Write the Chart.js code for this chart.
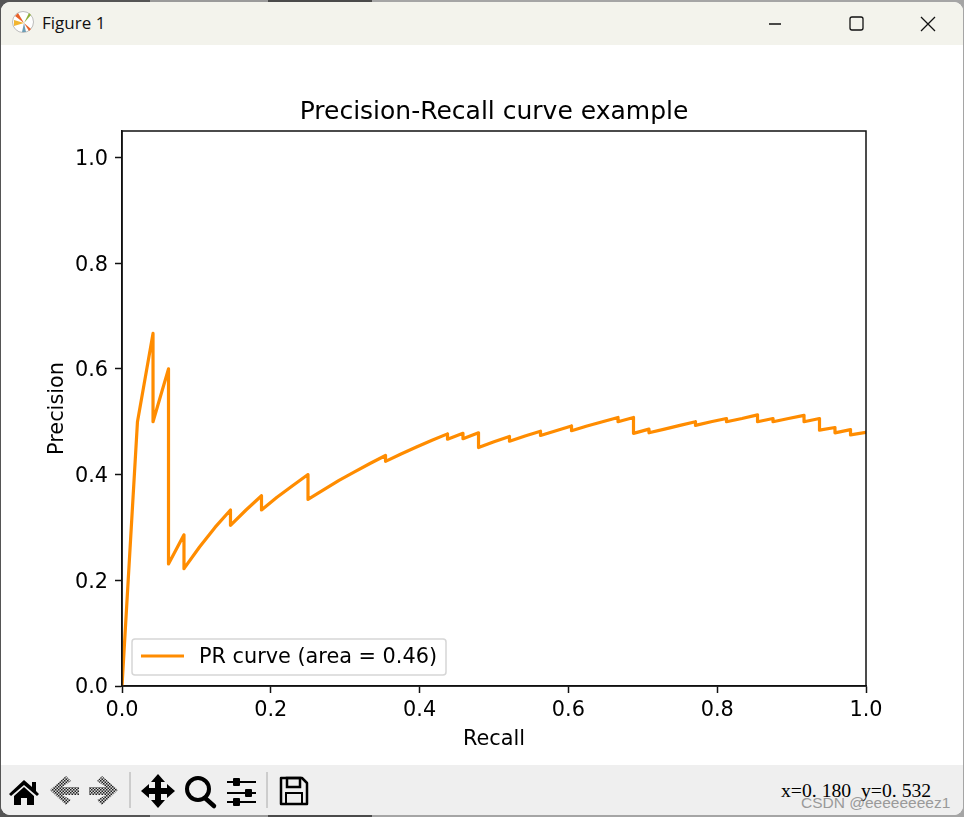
<!DOCTYPE html>
<html>
<head>
<meta charset="utf-8">
<title>Figure 1</title>
<script src="https://cdn.jsdelivr.net/npm/chart.js@4"></script>
<style>
html, body { margin: 0; padding: 0; width: 964px; height: 817px; overflow: hidden; }
body { background: linear-gradient(90deg, #555 0 150px, #9a9a9a 150px 268px, #4a4a4a 268px 372px, #a5a5a5 372px); }
#win { position: absolute; left: 1px; top: 2px; width: 962px; height: 813px; background: #fff; border-radius: 9px; overflow: hidden; }
#titlebar { position: absolute; left: 0; top: 0; width: 100%; height: 43px; background: #f3f3ec; }
#titlebar span { position: absolute; left: 41px; top: 9px; font: 17px "Open Sans", "Noto Sans", sans-serif; color: #111; }
#toolbar { position: absolute; left: 0; top: 763px; width: 100%; height: 50px; background: #efefef; }
#coords { position: absolute; left: 780px; top: 14px; font: 19.7px "Liberation Serif", serif; color: #000; white-space: pre; }
#mark { position: absolute; left: 800px; top: 29px; font: 15.5px "Liberation Sans", sans-serif; color: #9a9a9a; white-space: pre; }
svg { position: absolute; left: 0; top: 0; }
</style>
</head>
<body>
<div id="win">
  <div id="titlebar">
    <svg width="962" height="43">
      <circle cx="22" cy="20" r="10.5" fill="#fff" stroke="#bbb"/>
      <path d="M23 21 L17 11 L14 14Z" fill="#e8622a"/>
      <path d="M23 21 L28 11 L30 13Z" fill="#8fb03a"/>
      <path d="M23 21 L13 18 L13 24Z" fill="#f2b632"/>
      <path d="M23 21 L28 29 L30 27Z" fill="#e8622a"/>
      <path d="M23 21 L21 30 L25 30Z" fill="#6d9eb5"/>
      <path d="M768 22 h12" stroke="#111" stroke-width="1.3"/>
      <rect x="849" y="15" width="13" height="13" rx="2" fill="none" stroke="#111" stroke-width="1.3"/>
      <path d="M920 15 L934 29 M934 15 L920 29" stroke="#111" stroke-width="1.3"/>
    </svg>
    <span>Figure 1</span>
  </div>
  <canvas id="prChart" width="962" height="720" style="position:absolute;left:0;top:43px;width:962px;height:720px"></canvas>
  <div id="toolbar">
    <svg width="962" height="50">
      <defs>
        <pattern id="dith" width="3" height="3" patternUnits="userSpaceOnUse">
          <rect width="3" height="3" fill="#d8d8d8"/><rect width="1.5" height="1.5" fill="#222"/><rect x="1.5" y="1.5" width="1.5" height="1.5" fill="#222"/>
        </pattern>
      </defs>
      <path d="M8 29 L23 15 L31 22 V17 H35 V26 L38 29 L36 31 L23 20 L10 31Z M13 31 L23 22 L33 31 V40 H26 V33 H20 V40 H13Z" fill="#000"/>
      <path d="M49 25 L65 11 L70 16 L61 22 H78 V30 H61 L70 35 L65 40Z" fill="url(#dith)"/>
      <path d="M117 25 L101 11 L96 16 L105 22 H88 V30 H105 L96 35 L101 40Z" fill="url(#dith)"/>
      <path d="M129 7 V43" stroke="#aaa"/>
      <path d="M157 9 L164 17 H160 V23 H166 V19 L174 26 L166 33 V29 H160 V35 H164 L157 43 L150 35 H154 V29 H148 V33 L140 26 L148 19 V23 H154 V17 H150Z" fill="#000"/>
      <circle cx="197" cy="24" r="11" fill="none" stroke="#000" stroke-width="4"/>
      <path d="M204 33 L213 41" stroke="#000" stroke-width="4.5" stroke-linecap="round"/>
      <path d="M226 17 H255 M226 28 H255 M226 37 H255" stroke="#000" stroke-width="2"/>
      <rect x="232" y="13" width="7" height="8" rx="1"/><rect x="244" y="24" width="7" height="8" rx="1"/><rect x="232" y="33" width="7" height="8" rx="1"/>
      <path d="M266 7 V43" stroke="#aaa"/>
      <path d="M280 13 H301 L306 18 V39 H280Z" fill="none" stroke="#000" stroke-width="2.5" stroke-linejoin="round"/>
      <rect x="286" y="13" width="13" height="9" fill="none" stroke="#000" stroke-width="2.5"/>
      <rect x="285" y="28" width="16" height="11" fill="none" stroke="#000" stroke-width="2"/>
    </svg>
    <div id="coords">x=0. 180  y=0. 532</div>
    <div id="mark">CSDN @eeeeeeeez1</div>
  </div>
</div>
<script>
const chartTitle = 'Precision-Recall curve example';
const xAxisTitle = 'Recall';
const yAxisTitle = 'Precision';
const seriesLabel = 'PR curve (area = 0.46)';
const seriesColor = 'darkorange';

const recall = [0, 0.0208, 0.0417, 0.0417, 0.0625, 0.0625, 0.0833, 0.0833, 0.1042, 0.125, 0.1458, 0.1458,
  0.1667, 0.1875, 0.1875, 0.2083, 0.2292, 0.25, 0.25, 0.2708, 0.2917, 0.3125, 0.3333, 0.3542, 0.3542,
  0.375, 0.3958, 0.4167, 0.4375, 0.4375, 0.4583, 0.4583, 0.4792, 0.4792, 0.5, 0.5208, 0.5208, 0.5417, 0.5625, 0.5625,
  0.5833, 0.6042, 0.6042, 0.625, 0.6458, 0.6667, 0.6667, 0.6875, 0.6875, 0.7083, 0.7083, 0.7292, 0.75, 0.7708, 0.7708,
  0.7917, 0.8125, 0.8125, 0.8333, 0.8542, 0.8542, 0.875, 0.875, 0.8958, 0.9167, 0.9167, 0.9375, 0.9375,
  0.9583, 0.9583, 0.9792, 0.9792, 1];
const precision = [0, 0.5, 0.667, 0.5, 0.6, 0.231, 0.286, 0.222, 0.263, 0.3, 0.333, 0.304,
  0.333, 0.36, 0.333, 0.357, 0.379, 0.4, 0.353, 0.371, 0.389, 0.405, 0.421, 0.436, 0.425,
  0.439, 0.452, 0.465, 0.477, 0.467, 0.478, 0.468, 0.479, 0.451, 0.462, 0.472, 0.463, 0.473, 0.482, 0.474,
  0.483, 0.492, 0.483, 0.492, 0.5, 0.508, 0.5, 0.508, 0.478, 0.486, 0.479, 0.486, 0.493, 0.5, 0.493,
  0.5, 0.506, 0.5, 0.506, 0.513, 0.5, 0.506, 0.5, 0.506, 0.512, 0.5, 0.506, 0.484,
  0.489, 0.479, 0.485, 0.475, 0.48];

const font = 'DejaVu Sans';

// spines on all four sides, matplotlib style
const frame = {
  id: 'frame',
  afterDatasetsDraw(chart) {
    const a = chart.chartArea, c = chart.ctx;
    c.save();
    c.strokeStyle = '#111';
    c.lineWidth = 1.5;
    c.strokeRect(a.left, a.top, a.right - a.left, a.bottom - a.top);
    c.restore();
  }
};

// legend box sitting inside the axes, lower left
const insideLegend = {
  id: 'insideLegend',
  afterDraw(chart) {
    const a = chart.chartArea, c = chart.ctx;
    const ds = chart.data.datasets[0];
    const x = a.left + 10, y = a.bottom - 47, w = 314, h = 36;
    c.save();
    c.beginPath();
    c.roundRect(x, y, w, h, 3);
    c.fillStyle = 'rgba(255,255,255,0.8)';
    c.fill();
    c.strokeStyle = '#d6d6d6';
    c.lineWidth = 1.5;
    c.stroke();
    c.beginPath();
    c.moveTo(x + 9, y + 17);
    c.lineTo(x + 52, y + 17);
    c.strokeStyle = ds.borderColor;
    c.lineWidth = ds.borderWidth;
    c.stroke();
    c.fillStyle = '#000';
    c.font = '20.8px "' + font + '"';
    c.textBaseline = 'middle';
    c.fillText(ds.label, x + 67, y + 18.5);
    c.restore();
  }
};

const points = recall.map((r, i) => ({ x: r, y: precision[i] }));

new Chart(document.getElementById('prChart').getContext('2d'), {
  type: 'line',
  data: {
    datasets: [{
      label: seriesLabel,
      data: points,
      borderColor: seriesColor,
      borderWidth: 3.2,
      pointRadius: 0,
      tension: 0,
      borderJoinStyle: 'round'
    }]
  },
  options: {
    responsive: false,
    animation: false,
    layout: { padding: { left: 0, right: 97, top: 0, bottom: 0 } },
    plugins: {
      legend: { display: false },
      tooltip: { enabled: false },
      title: {
        display: true,
        fullSize: false,
        text: chartTitle,
        color: '#000',
        font: { family: font, size: 25, weight: 'normal' },
        padding: { top: 52, bottom: 4 }
      }
    },
    scales: {
      x: {
        type: 'linear',
        min: 0,
        max: 1,
        afterFit(s) { s.height = 79; },
        grid: { drawOnChartArea: false, color: '#111', tickLength: 7, tickWidth: 1.5 },
        border: { color: '#111', width: 1.5 },
        ticks: { stepSize: 0.2, color: '#000', padding: 5, maxRotation: 0, font: { family: font, size: 20.8 },
          callback: v => v.toFixed(1) },
        title: { display: true, text: xAxisTitle, color: '#000', font: { family: font, size: 20.8 }, padding: { top: 2, bottom: 13 } }
      },
      y: {
        min: 0,
        max: 1.05,
        afterFit(s) { s.width = 121; },
        grid: { drawOnChartArea: false, color: '#111', tickLength: 7, tickWidth: 1.5 },
        border: { color: '#111', width: 1.5 },
        ticks: { stepSize: 0.2, includeBounds: false, color: '#000', padding: 7, labelOffset: 2, font: { family: font, size: 20.8 },
          callback: v => v.toFixed(1) },
        title: { display: true, text: yAxisTitle, color: '#000', font: { family: font, size: 20.8 }, padding: { top: 44, bottom: 0 } }
      }
    }
  },
  plugins: [frame, insideLegend]
});
</script>
</body>
</html>
